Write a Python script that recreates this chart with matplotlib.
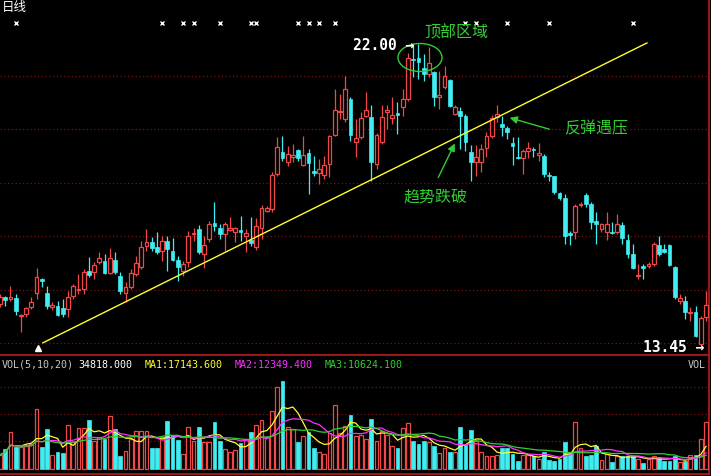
import matplotlib
matplotlib.use('Agg')
import matplotlib.pyplot as plt
import numpy as np
import pandas as pd
from matplotlib.patches import Ellipse

# ---------------- data ----------------
opens = [14.64, 14.84, 14.78, 14.81, 14.30, 14.36, 14.56, 14.95, 15.35, 14.95,
         14.56, 14.58, 14.53, 14.50, 14.87, 15.04, 15.06, 15.57, 15.55, 15.83,
         15.86, 15.52, 15.89, 15.43, 14.95, 15.12, 15.49, 15.69, 16.28, 16.39,
         16.25, 16.14, 16.42, 16.14, 15.89, 15.57, 15.83, 16.62, 16.76, 16.06,
         16.48, 16.93, 16.79, 16.62, 16.74, 16.68, 16.74, 16.56, 16.45, 16.25,
         16.79, 17.27, 17.33, 18.32, 18.94, 18.66, 18.80, 19.00, 18.57, 18.91,
         18.40, 18.35, 18.29, 18.60, 19.42, 20.07, 19.88, 20.44, 19.23, 19.37,
         19.96, 19.93, 18.60, 19.23, 20.07, 19.91, 20.05, 20.22, 20.44, 21.58,
         21.60, 21.32, 21.15, 21.21, 20.50, 20.78, 20.98, 20.02, 20.10, 19.96,
         18.94, 18.66, 18.66, 19.06, 19.40, 19.93, 19.74, 19.62, 19.20, 18.80,
         18.77, 18.97, 19.03, 18.86, 18.83, 18.29, 18.26, 17.78, 17.64, 16.65,
         16.68, 17.44, 17.72, 17.47, 16.99, 16.76, 16.68, 16.68, 16.68, 16.88,
         16.45, 16.06, 15.43, 15.72, 15.72, 15.77, 16.31, 16.20, 16.31, 15.69,
         14.72, 14.72, 14.38, 14.41, 13.51, 14.27]
highs = [14.92, 14.87, 15.15, 14.92, 14.36, 14.56, 14.84, 15.66, 15.38, 15.15,
         14.70, 14.72, 14.78, 15.01, 15.21, 15.49, 15.63, 15.97, 15.83, 16.11,
         16.06, 16.23, 16.11, 15.55, 15.26, 15.63, 16.00, 16.42, 16.76, 16.54,
         16.68, 16.56, 16.56, 16.51, 16.00, 15.86, 16.71, 16.79, 16.88, 16.56,
         16.99, 17.53, 16.90, 16.96, 17.10, 16.82, 17.13, 16.76, 17.10, 17.07,
         17.44, 17.41, 18.38, 19.37, 19.40, 19.11, 19.17, 19.03, 19.40, 19.03,
         18.83, 18.74, 18.83, 19.42, 20.73, 20.59, 21.09, 20.50, 19.88, 20.07,
         20.64, 20.27, 19.48, 20.27, 20.27, 20.50, 20.36, 20.73, 21.75, 22.00,
         22.00, 21.72, 21.92, 21.24, 21.24, 21.38, 21.01, 20.27, 20.22, 20.02,
         19.14, 19.14, 19.17, 19.51, 19.99, 20.27, 19.96, 19.68, 19.37, 19.37,
         19.03, 19.23, 19.08, 19.20, 18.89, 18.38, 18.26, 17.81, 17.75, 16.71,
         17.47, 17.53, 17.78, 17.53, 17.24, 16.93, 17.24, 16.96, 17.19, 16.96,
         16.62, 16.34, 15.77, 15.77, 15.83, 16.39, 16.56, 16.34, 16.34, 15.72,
         14.92, 14.87, 14.56, 14.58, 14.30, 15.01]
lows = [14.55, 14.58, 14.72, 14.33, 13.85, 14.27, 14.50, 14.78, 15.12, 14.50,
        14.47, 14.30, 14.27, 14.27, 14.78, 14.92, 14.92, 15.40, 15.35, 15.77,
        15.49, 15.49, 15.49, 14.92, 14.70, 15.06, 15.43, 15.63, 16.14, 16.14,
        16.06, 15.86, 15.57, 15.86, 15.29, 15.43, 15.69, 16.42, 16.06, 15.66,
        16.39, 16.71, 16.48, 16.14, 16.71, 16.39, 16.42, 16.11, 16.28, 16.17,
        16.48, 17.24, 17.24, 18.26, 18.69, 18.55, 18.66, 18.69, 18.55, 17.75,
        18.26, 18.04, 18.18, 18.23, 19.40, 19.88, 19.79, 19.25, 18.80, 19.31,
        19.93, 18.12, 18.46, 19.17, 19.59, 19.74, 19.45, 19.96, 20.39, 21.07,
        21.01, 20.95, 21.07, 20.24, 20.16, 20.73, 20.22, 19.99, 19.03, 18.97,
        18.12, 18.26, 18.38, 18.80, 19.34, 19.79, 19.40, 19.31, 18.57, 18.74,
        18.32, 18.77, 18.80, 18.69, 18.23, 18.12, 17.75, 17.58, 16.34, 16.31,
        16.48, 17.39, 17.39, 16.76, 16.34, 16.68, 16.45, 16.62, 16.62, 16.34,
        15.94, 15.63, 15.35, 15.35, 15.66, 15.72, 16.00, 16.09, 15.72, 14.78,
        14.64, 14.22, 14.16, 13.71, 13.45, 14.16]
closes = [14.84, 14.75, 14.84, 14.44, 14.33, 14.53, 14.70, 15.40, 15.29, 14.58,
          14.61, 14.33, 14.36, 14.84, 15.15, 15.06, 15.55, 15.46, 15.74, 15.94,
          15.52, 15.94, 15.55, 15.01, 15.12, 15.52, 15.80, 16.25, 16.39, 16.23,
          16.11, 16.42, 16.20, 15.89, 15.69, 15.77, 16.56, 16.65, 16.11, 16.31,
          16.90, 16.85, 16.62, 16.90, 16.79, 16.79, 16.68, 16.65, 16.37, 16.85,
          17.36, 17.36, 18.29, 19.08, 18.77, 18.89, 18.86, 18.77, 18.86, 18.63,
          18.35, 18.46, 18.57, 19.40, 20.13, 20.10, 20.73, 19.42, 19.34, 19.91,
          20.13, 18.66, 19.42, 19.93, 20.13, 19.99, 19.99, 20.44, 21.60, 21.55,
          21.49, 21.15, 21.46, 20.50, 20.56, 21.09, 20.24, 20.22, 19.96, 19.23,
          18.66, 18.80, 19.03, 19.40, 19.91, 20.02, 19.65, 19.51, 19.11, 18.77,
          18.97, 19.06, 19.00, 18.91, 18.32, 18.26, 17.81, 17.64, 16.56, 16.59,
          17.41, 17.47, 17.47, 16.96, 16.90, 16.90, 16.90, 16.65, 16.90, 16.51,
          16.06, 15.66, 15.46, 15.66, 15.77, 16.34, 16.06, 16.11, 15.74, 14.84,
          14.81, 14.41, 14.41, 13.73, 14.24, 14.61]
volumes = [10370, 14820, 27420, 16300, 16300, 17040, 18530, 44460, 16300, 29640,
           10370, 12600, 11860, 32600, 20010, 30380, 30380, 36310, 20750, 23710,
           22230, 39270, 29640, 9630, 13340, 22230, 28160, 28160, 28160, 15560,
           15560, 23710, 35570, 25190, 21490, 11120, 31120, 20750, 31120, 20010,
           20010, 34820, 20750, 14820, 12600, 14080, 19270, 22230, 27420, 32600,
           36310, 23710, 42980, 60760, 65210, 31120, 29640, 20010, 24450, 27420,
           15560, 12600, 11120, 26680, 47420, 26680, 31860, 40010, 24450, 25190,
           22230, 37050, 20750, 28160, 25190, 17040, 15560, 30380, 34090, 20750,
           18530, 20750, 20010, 17040, 11860, 15560, 12600, 12600, 31120, 17780,
           28900, 20750, 12600, 9630, 9630, 10370, 15560, 15560, 11120, 5930,
           10370, 10370, 9630, 7410, 12600, 6670, 5930, 7410, 20010, 12600,
           34820, 15560, 9630, 10370, 17040, 6670, 11120, 5190, 9630, 9630,
           9630, 9630, 7410, 4450, 7410, 9630, 8890, 5930, 5930, 9630,
           5190, 5930, 10370, 10370, 22230, 34818]
ma_windows = [5, 10, 20]
ma_labels = ["MA1:17143.600", "MA2:12349.400", "MA3:10624.100"]
top_marker_idx = [3, 31, 35, 37, 42, 48, 49, 57, 59, 61, 64, 89, 91, 97, 105, 121]
trend_x = [8.2, 123.7]
trend_y = [13.54, 22.03]
start_marker = (7.3, 13.39)
high_label = "22.00"
low_label = "13.45"

# ---------------- layout helpers ----------------
W, H = 711, 477
PX_PER_BAR = 5.23
P0, K = 23.274, 0.02831          # price at pixel row 0, price per pixel row
VBASE, VK = 470, 741.0           # volume zero row, volume per pixel row

def fx(x):
    return x / W

def fy(y):
    return 1 - y / H

def px2price(y):
    return P0 - K * y

RED = '#f04848'
CYAN = '#40eef2'
GREEN = '#33cc33'
GRID = '#7a1414'
BORDER = '#b01818'

plt.rcParams['font.family'] = ['Noto Sans CJK SC', 'DejaVu Sans']

fig = plt.figure(figsize=(W / 100, H / 100), dpi=100, facecolor='black')

# main price panel: pixel rows 0..356, columns 0..709
ax = fig.add_axes([0, fy(356), fx(709), 356 / H], facecolor='black')
ax.set_xlim(0, 709 / PX_PER_BAR)
ax.set_ylim(px2price(356), px2price(0))

# volume panel: pixel rows 357..475
axv = fig.add_axes([0, fy(475), fx(709), (475 - 357) / H], facecolor='black')
axv.set_xlim(0, 709 / PX_PER_BAR)
axv.set_ylim((VBASE - 475) * VK, (VBASE - 357) * VK)

for a in (ax, axv):
    a.set_xticks([])
    a.set_yticks([])
    for s in a.spines.values():
        s.set_visible(False)
    a.spines['bottom'].set_visible(True)
    a.spines['right'].set_visible(True)
    a.spines['bottom'].set_color(BORDER)
    a.spines['right'].set_color(BORDER)
    a.spines['bottom'].set_linewidth(1.3)
    a.spines['right'].set_linewidth(1.3)

# grid lines
for y in np.linspace(77, 344, 6):
    ax.axhline(px2price(y), color=GRID, lw=0.9, ls=(0, (1, 2)), zorder=1)
for y in (388, 415, 442):
    axv.axhline((VBASE - y) * VK, color=GRID, lw=0.9, ls=(0, (1, 2)), zorder=1)

o = np.array(opens); h = np.array(highs); l = np.array(lows); c = np.array(closes)
v = np.array(volumes, dtype=float)
idx = np.arange(len(o))
up = c >= o
bw = 0.72

# wicks
top_body = np.maximum(o, c)
bot_body = np.minimum(o, c)
ax.vlines(idx[up], top_body[up], h[up], color=RED, lw=0.9, zorder=2)
ax.vlines(idx[up], l[up], bot_body[up], color=RED, lw=0.9, zorder=2)
ax.vlines(idx[~up], l[~up], h[~up], color=CYAN, lw=0.9, zorder=2)

# bodies
body_h = np.maximum(top_body - bot_body, 0.02)
ax.bar(idx[up], body_h[up], bottom=bot_body[up], width=bw, facecolor='black',
       edgecolor=RED, linewidth=0.9, zorder=3)
ax.bar(idx[~up], body_h[~up], bottom=bot_body[~up], width=bw, facecolor=CYAN,
       edgecolor=CYAN, linewidth=0.5, zorder=3)

# trend line
ax.plot(trend_x, trend_y, color='#ffff30', lw=1.0, zorder=4)
ax.plot([start_marker[0]], [start_marker[1]], marker='^', color='white',
        markersize=4, zorder=5)

# top markers
ax.plot(top_marker_idx, [px2price(24)] * len(top_marker_idx), ls='none',
        marker='x', color='white', markersize=3.2, mew=1.0, zorder=5)

# volume bars
axv.bar(idx[up], v[up], width=bw, facecolor='black', edgecolor=RED,
        linewidth=0.9, zorder=3)
axv.bar(idx[~up], v[~up], width=bw, facecolor=CYAN, edgecolor=CYAN,
        linewidth=0.5, zorder=3)
vs = pd.Series(v)
for win, col in zip(ma_windows, ['#ffff30', '#ff30ff', '#30d030']):
    axv.plot(idx, vs.rolling(win, min_periods=1).mean(), color=col, lw=0.9,
             zorder=4)

# ---------------- texts ----------------
fig.text(fx(2), fy(7), '日线', color='white', fontsize=9, va='center', ha='left')

mono = dict(family='DejaVu Sans Mono', fontsize=10.5, weight='bold',
            color='white', va='center', ha='right')
fig.text(fx(414), fy(46), high_label + ' →', **mono)
fig.text(fx(704), fy(348), low_label + ' →', **mono)

fig.text(fx(424), fy(33), '顶部区域', color=GREEN, fontsize=11.5, va='center', ha='left')
fig.text(fx(564), fy(129), '反弹遇压', color=GREEN, fontsize=11.5, va='center', ha='left')
fig.text(fx(403), fy(197), '趋势跌破', color=GREEN, fontsize=11.5, va='center', ha='left')

fig.add_artist(Ellipse((fx(420), fy(58.5)), width=44 / W, height=28 / H,
                       transform=fig.transFigure, fill=False,
                       edgecolor=GREEN, lw=1.0))

arrow = dict(arrowstyle='-|>', color=GREEN, lw=1.0, mutation_scale=11)
fig.add_artist(matplotlib.patches.FancyArrowPatch(
    (fx(552), fy(131)), (fx(507), fy(118)), transform=fig.transFigure, **arrow))
fig.add_artist(matplotlib.patches.FancyArrowPatch(
    (fx(437), fy(181)), (fx(456), fy(142)), transform=fig.transFigure, **arrow))

vfont = dict(family='DejaVu Sans Mono', fontsize=7.2, va='center')
fig.text(fx(2), fy(365), 'VOL(5,10,20)', color='#c8c8c8', ha='left', **vfont)
fig.text(fx(78), fy(365), f'{volumes[-1]:.3f}', color='white', ha='left', **vfont)
fig.text(fx(145), fy(365), ma_labels[0], color='#ffff30', ha='left', **vfont)
fig.text(fx(235), fy(365), ma_labels[1], color='#ff30ff', ha='left', **vfont)
fig.text(fx(325), fy(365), ma_labels[2], color='#30d030', ha='left', **vfont)
fig.text(fx(706), fy(365), 'VOL', color='#c8c8c8', ha='right', **vfont)

fig.savefig('out.png', dpi=100, facecolor='black')
